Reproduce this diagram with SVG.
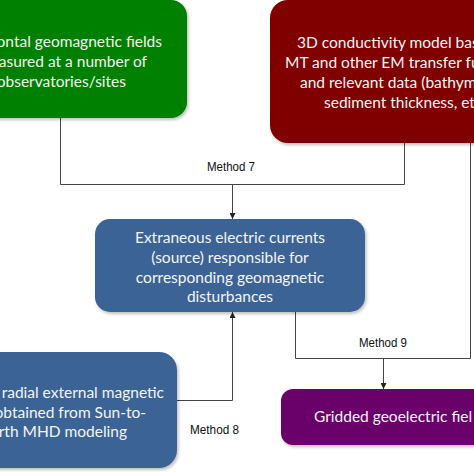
<svg xmlns="http://www.w3.org/2000/svg" width="474" height="474" viewBox="0 0 474 474">
<defs>
<marker id="ah" viewBox="0 0 6 6" refX="6" refY="3" markerWidth="6" markerHeight="6" markerUnits="userSpaceOnUse" orient="auto">
<path d="M0,0 L6,3 L0,6 Z" fill="#222"/>
</marker>
<filter id="sh" x="-10%" y="-10%" width="130%" height="130%">
<feDropShadow dx="1.5" dy="2" stdDeviation="1.5" flood-color="#000" flood-opacity="0.25"/>
</filter>
</defs>
<style>
.bt{font-family:Lato,"Liberation Sans",sans-serif;font-size:15.5px;fill:#f4f4f4}
.lb{font-family:"Liberation Sans",Arial,sans-serif;font-size:13px;fill:#111}
.ln{fill:none;stroke:#444;stroke-width:1}
.bx{filter:url(#sh)}
</style>
<rect width="474" height="474" fill="#fff"/>
<g id="connectors">
<polyline class="ln" points="60.5,118 60.5,184.5 404.5,184.5 404.5,143"/>
<line class="ln" x1="232.5" y1="184.5" x2="232.5" y2="219" marker-end="url(#ah)"/>
<polyline class="ln" points="177,400.5 232.5,400.5 232.5,312" marker-end="url(#ah)"/>
<polyline class="ln" points="295.5,312 295.5,358.5 470.5,358.5 470.5,143"/>
<line class="ln" x1="383.5" y1="358.5" x2="383.5" y2="389" marker-end="url(#ah)"/>
<text class="lb" x="207" y="171" textLength="48" lengthAdjust="spacingAndGlyphs">Method 7</text>
<text class="lb" x="359" y="347" textLength="48" lengthAdjust="spacingAndGlyphs">Method 9</text>
<text class="lb" x="190" y="434" textLength="49" lengthAdjust="spacingAndGlyphs">Method 8</text>
</g>
<g id="node-green">
<rect class="bx" x="-30" y="0" width="217" height="118" rx="16" fill="#008000"/>
<text class="bt" x="162" y="47" text-anchor="end">ontal geomagnetic fields</text>
<text class="bt" x="147" y="67" text-anchor="end">asured at a number of</text>
<text class="bt" x="126" y="87" text-anchor="end">observatories/sites</text>
</g>
<g id="node-red">
<rect class="bx" x="270" y="0" width="240" height="143" rx="18" fill="#800000"/>
<text class="bt" x="297" y="48">3D conductivity model bas</text>
<text class="bt" x="285" y="68">MT and other EM transfer fu</text>
<text class="bt" x="300" y="88">and relevant data (bathym</text>
<text class="bt" x="324" y="108">sediment thickness, et</text>
</g>
<g id="node-blue-mid">
<rect class="bx" x="95" y="219" width="270" height="93" rx="15" fill="#3b6496"/>
<text class="bt" x="230" y="243" text-anchor="middle">Extraneous electric currents</text>
<text class="bt" x="230" y="263" text-anchor="middle">(source) responsible for</text>
<text class="bt" x="230" y="283" text-anchor="middle">corresponding geomagnetic</text>
<text class="bt" x="230" y="302" text-anchor="middle">disturbances</text>
</g>
<g id="node-blue-left">
<rect class="bx" x="-30" y="352" width="207" height="116" rx="18" fill="#3b6496"/>
<text class="bt" x="164" y="398" text-anchor="end">radial external magnetic</text>
<text class="bt" x="146" y="418" text-anchor="end">obtained from Sun-to-</text>
<text class="bt" x="127" y="437" text-anchor="end">rth MHD modeling</text>
</g>
<g id="node-purple">
<rect class="bx" x="281" y="389" width="230" height="56" rx="12" fill="#6b006b"/>
<text class="bt" x="314" y="422">Gridded geoelectric fiel</text>
</g>
</svg>
